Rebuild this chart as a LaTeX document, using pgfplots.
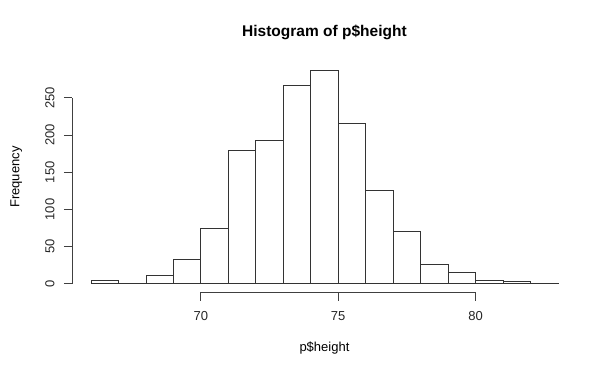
\documentclass[border=0pt]{standalone}
\usepackage{pgfplots}
\pgfplotsset{compat=1.18}
\usepackage{fontspec}
\setmainfont{Liberation Sans}
\begin{document}
\begin{tikzpicture}
\begin{axis}[
  scale only axis,
  width=504.3pt, height=230.5pt,
  xmin=65.32, xmax=83.68, ymin=-11.48, ymax=298.48,
  axis lines=left,
  axis line style={draw=none},
  clip=false,
  xtick={70,75,80},
  ytick={0,50,100,150,200,250},
  minor tick num=0,
  tick align=outside,
  major tick length=8.5pt,
  tick style={black!75, line width=0.8pt},
  /pgf/number format/assume math mode=true,
  ticklabel style={font=\fontsize{13}{15}\selectfont, text=black!85, inner sep=0pt},
  xticklabel style={anchor=north},
  xticklabel shift=10.5pt,
  yticklabel style={rotate=90, anchor=south},
  yticklabel shift=9pt,
]
\addplot[ybar interval, fill=white, draw=black!80, line width=0.8pt] coordinates {
(66,4) (67,0) (68,11) (69,33) (70,74) (71,180) (72,193) (73,267) (74,287)
(75,215) (76,125) (77,71) (78,26) (79,15) (80,5) (81,3) (82,1) (83,1)
};
\addplot[draw=black!80, line width=0.8pt] coordinates {(66,0) (83,0)};
\draw[black!75, line width=0.8pt] (axis cs:70,-11.48) -- (axis cs:80,-11.48);
\draw[black!75, line width=0.8pt] (axis cs:65.32,0) -- (axis cs:65.32,250);
\node[anchor=base, font=\fontsize{15.5}{18}\selectfont\bfseries] at (rel axis cs:0.5,1.111) {Histogram of p\$height};
\node[anchor=base, font=\fontsize{13}{15}\selectfont] at (rel axis cs:0.5,-0.259) {p\$height};
\node[anchor=base, rotate=90, font=\fontsize{13}{15}\selectfont] at (rel axis cs:-0.105,0.5) {Frequency};
\coordinate (bl) at (rel axis cs:-0.14337,-0.38048);
\coordinate (tr) at (rel axis cs:1.04442,1.26811);
\end{axis}
\pgfresetboundingbox
\path[use as bounding box] (bl) rectangle (tr);
\end{tikzpicture}
\end{document}
